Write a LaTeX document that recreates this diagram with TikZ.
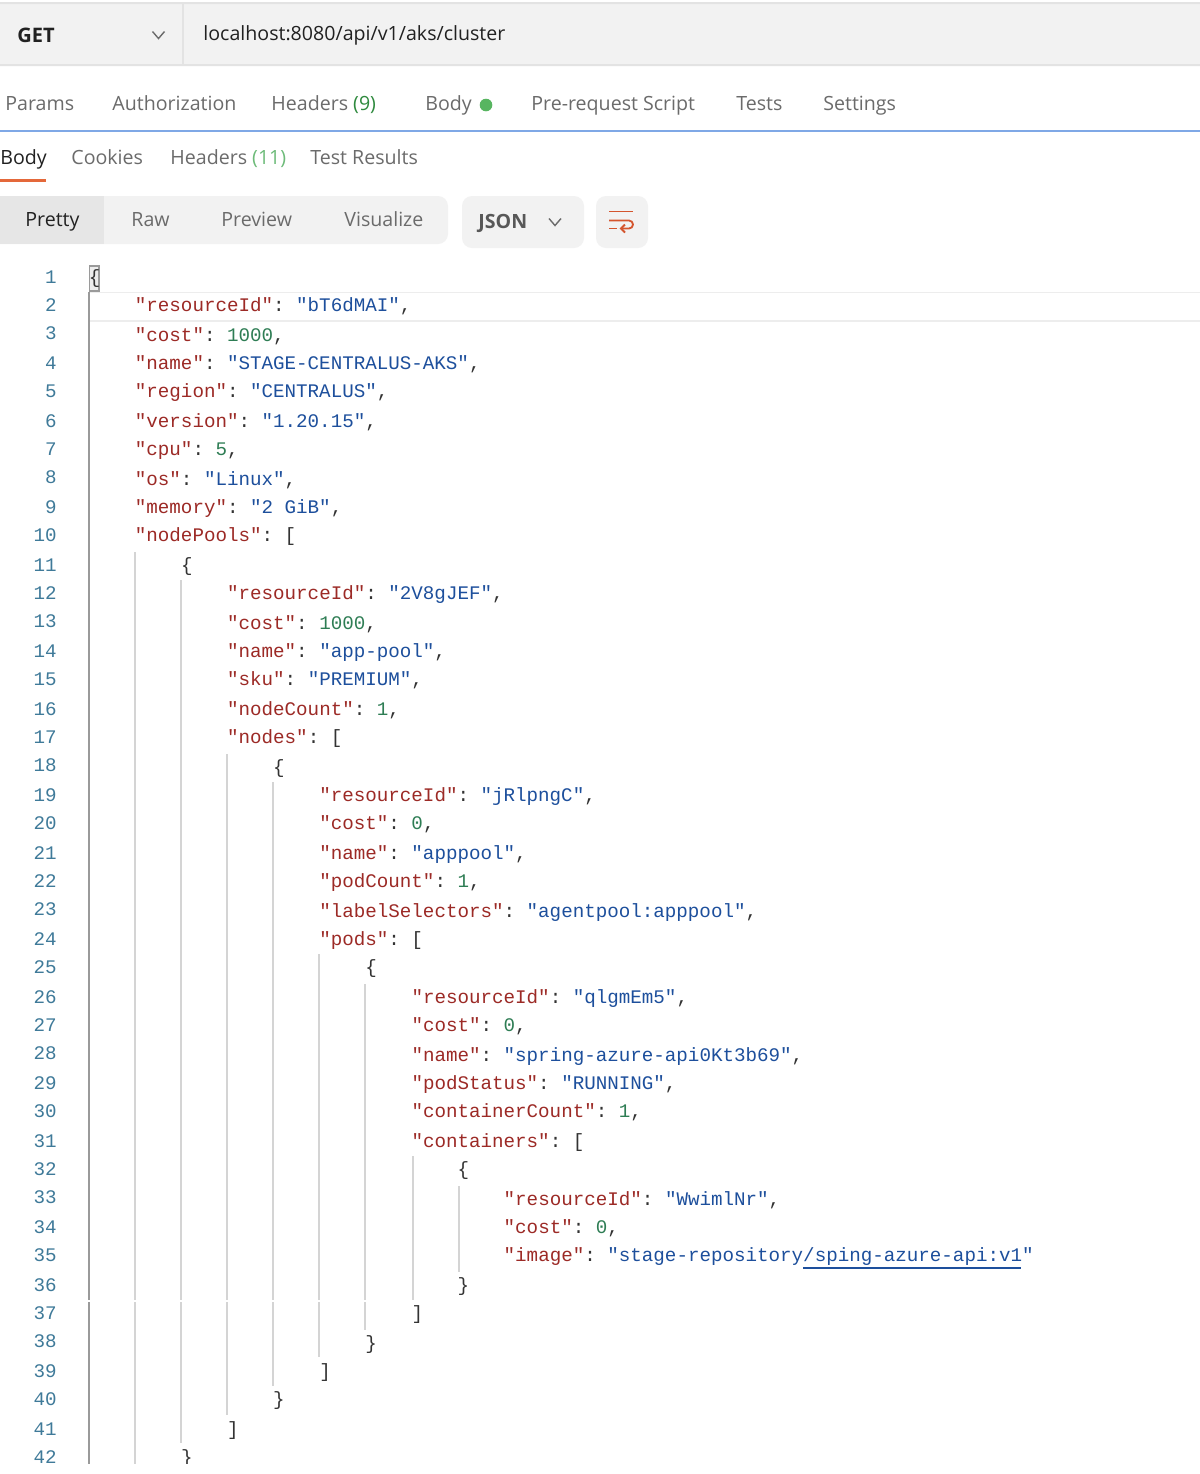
\documentclass[tikz,border=0pt]{standalone}
\usepackage{fontspec}
\setmainfont{Open Sans}
\newfontfamily\codefont{Liberation Mono}
\usetikzlibrary{positioning,calc}

\definecolor{barfill}{HTML}{F2F2F2}
\definecolor{barline}{HTML}{E3E3E3}
\definecolor{tabtext}{HTML}{6B6B6B}
\definecolor{activetab}{HTML}{E6E6E6}
\definecolor{darktext}{HTML}{212121}
\definecolor{tabblue}{HTML}{7FA8E6}
\definecolor{tabgreen}{HTML}{2F8A3E}
\definecolor{countgreen}{HTML}{6DBB79}
\definecolor{dotgreen}{HTML}{57B560}
\definecolor{accent}{HTML}{E4683A}
\definecolor{iconred}{HTML}{D4552E}
\definecolor{keycol}{HTML}{9C2A26}
\definecolor{strcol}{HTML}{1D4F9C}
\definecolor{numcol}{HTML}{2E7D54}
\definecolor{punctcol}{HTML}{333333}
\definecolor{linenum}{HTML}{3F7A99}
\definecolor{guide}{HTML}{D4D4D4}
\definecolor{guidedark}{HTML}{9A9A9A}
\definecolor{rowline}{HTML}{EDEDED}

\newcommand{\jk}[1]{\textcolor{keycol}{"#1"}}
\newcommand{\js}[1]{\textcolor{strcol}{"#1"}}
\newcommand{\jn}[1]{\textcolor{numcol}{#1}}

\begin{document}
\begin{tikzpicture}[
    x=0.5pt, y=-0.5pt,
    uitext/.style={anchor=base west, inner sep=0pt, text=tabtext, font=\fontsize{9.8}{12}\selectfont},
    darkui/.style={uitext, text=darktext},
    codeline/.style={anchor=base west, inner sep=0pt, text=punctcol, font=\codefont\fontsize{9.6}{12}\selectfont\frenchspacing},
    numline/.style={anchor=base east, inner sep=0pt, text=linenum, font=\codefont\fontsize{9.6}{12}\selectfont},
    chevron/.style={tabtext, line width=0.7pt},
    wrapline/.style={iconred, line width=0.9pt},
    guideline/.style={guide, line width=0.6pt}
]
\useasboundingbox (0,0) rectangle (1200,1474);
\fill[white] (0,0) rectangle (1200,1474);

% request bar
\draw[barline, fill=barfill, line width=1pt, rounded corners=2pt] (-6,3) rectangle (1206,65);
\draw[barline, line width=1pt] (183,4) -- (183,64);
\node[darkui, font=\fontsize{10}{12}\selectfont\bfseries] (method) at (17,42) {GET};
\draw[chevron] (152.5,31.5) -- (158.5,38.5) -- (164.5,31.5);
\node[uitext, text=darktext] (url) at (203,40) {localhost:8080/api/v1/aks/cluster};

% request tabs
\node[uitext] (params) at (5,110) {Params};
\node[uitext] (auth) at (112,110) {Authorization};
\node[uitext] (reqheaders) at (271,110) {Headers \textcolor{tabgreen}{(9)}};
\node[uitext] (reqbody) at (425,110) {Body};
\fill[dotgreen] (486,105) circle (6.3);
\node[uitext] (prereq) at (531,110) {Pre-request Script};
\node[uitext] (tests) at (736,110) {Tests};
\node[uitext] (settings) at (823,110) {Settings};
\draw[tabblue, line width=1pt] (0,131) -- (1200,131);

% response tabs
\node[darkui] (resbody) at (0,164) {Body};
\node[uitext] (cookies) at (71,164) {Cookies};
\node[uitext] (resheaders) at (170,164) {Headers \textcolor{countgreen}{(11)}};
\node[uitext] (results) at (310,164) {Test Results};
\fill[accent] (0,178.5) rectangle (46,181.5);

% view buttons
\fill[barfill, rounded corners=5pt] (-10,196) rectangle (448,244);
\fill[activetab] (-10,196) rectangle (104,244);
\node[darkui] (pretty) at (25,226) {Pretty};
\node[uitext] (raw) at (131,226) {Raw};
\node[uitext] (preview) at (221,226) {Preview};
\node[uitext] (visualize) at (344,226) {Visualize};
\fill[barfill, rounded corners=5pt] (462,196) rectangle (584,248);
\node[uitext, text=darktext!75, font=\fontsize{9.8}{12}\selectfont\bfseries] (json) at (478,228) {JSON};
\draw[chevron] (549,218.5) -- (555,225.5) -- (561,218.5);
\fill[barfill, rounded corners=5pt] (596,196) rectangle (648,248);
\draw[wrapline] (609,211.5) -- (633,211.5);
\draw[wrapline] (609,220.5) -- (629,220.5) arc[start angle=-90, end angle=90, radius=4] -- (621,228.5);
\draw[wrapline] (625,224.5) -- (621,228.5) -- (625,232.5);
\draw[wrapline] (609,228.5) -- (617,228.5);

% active row and matched brace
\draw[rowline, line width=0.6pt] (89,292.5) -- (1200,292.5);
\draw[rowline, line width=0.6pt] (89,321) -- (1200,321);
\draw[guidedark, fill=rowline, line width=0.6pt] (89.5,266) rectangle (99,291);

% indent guides
\draw[guidedark, line width=0.7pt] (89,292) -- (89,1300) (89,1302) -- (89,1464);
\foreach \gx/\gtop/\gbot in {135/552/1464, 181/580/1443, 227/754/1415, 273/782/1386, 319/954/1357, 365/984/1330, 413/1156/1300, 459/1186/1272} {
    \draw[guideline] (\gx,\gtop) -- (\gx,\gbot);
}
\foreach \gx in {135,181,227,273,319,365,413} {
    \draw[white, line width=1pt] (\gx,1301) -- +(2,0) -- +(-2,0);
}

% line numbers
\foreach \i in {1,...,42} {
    \pgfmathsetmacro{\ny}{283.5+2*floor(14.4*(\i-1)+0.01)}
    \node[numline] (num\i) at (57,\ny) {\i};
}

% json lines: number / level / text
\foreach \i/\lvl/\txt in {
    1/0/{\{},
    2/1/{\jk{resourceId}: \js{bT6dMAI},},
    3/1/{\jk{cost}: \jn{1000},},
    4/1/{\jk{name}: \js{STAGE-CENTRALUS-AKS},},
    5/1/{\jk{region}: \js{CENTRALUS},},
    6/1/{\jk{version}: \js{1.20.15},},
    7/1/{\jk{cpu}: \jn{5},},
    8/1/{\jk{os}: \js{Linux},},
    9/1/{\jk{memory}: \js{2 GiB},},
    10/1/{\jk{nodePools}: [},
    11/2/{\{},
    12/3/{\jk{resourceId}: \js{2V8gJEF},},
    13/3/{\jk{cost}: \jn{1000},},
    14/3/{\jk{name}: \js{app-pool},},
    15/3/{\jk{sku}: \js{PREMIUM},},
    16/3/{\jk{nodeCount}: \jn{1},},
    17/3/{\jk{nodes}: [},
    18/4/{\{},
    19/5/{\jk{resourceId}: \js{jRlpngC},},
    20/5/{\jk{cost}: \jn{0},},
    21/5/{\jk{name}: \js{apppool},},
    22/5/{\jk{podCount}: \jn{1},},
    23/5/{\jk{labelSelectors}: \js{agentpool:apppool},},
    24/5/{\jk{pods}: [},
    25/6/{\{},
    26/7/{\jk{resourceId}: \js{qlgmEm5},},
    27/7/{\jk{cost}: \jn{0},},
    28/7/{\jk{name}: \js{spring-azure-api0Kt3b69},},
    29/7/{\jk{podStatus}: \js{RUNNING},},
    30/7/{\jk{containerCount}: \jn{1},},
    31/7/{\jk{containers}: [},
    32/8/{\{},
    33/9/{\jk{resourceId}: \js{WwimlNr},},
    34/9/{\jk{cost}: \jn{0},},
    35/9/{\jk{image}: \js{stage-repository/sping-azure-api:v1}},
    36/8/{\}},
    37/7/{]},
    38/6/{\}},
    39/5/{]},
    40/4/{\}},
    41/3/{]},
    42/2/{\}}
} {
    \pgfmathsetmacro{\ny}{283.5+2*floor(14.4*(\i-1)+0.3)}
    \pgfmathsetmacro{\nx}{88.4+46.1*\lvl}
    \node[codeline] (line\i) at (\nx,\ny) {\txt};
}
% link under the image path
\draw[strcol, line width=0.8pt] (803,1268) -- (1021,1268);

% screenshot ends above the bottom margin
\fill[white] (0,1464) rectangle (1200,1474);
\end{tikzpicture}
\end{document}
